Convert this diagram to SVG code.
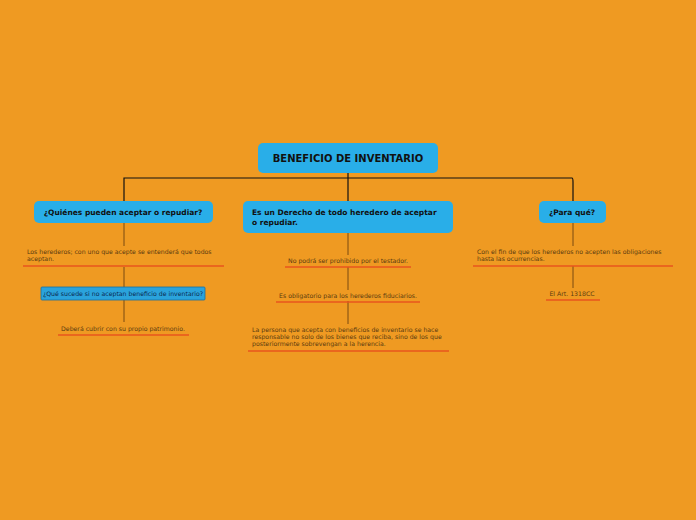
<svg xmlns="http://www.w3.org/2000/svg" width="696" height="520" viewBox="0 0 696 520">
<style>
.b{fill:#29aee8;}
.t{font-family:"DejaVu Sans",sans-serif;font-weight:bold;font-size:7.5px;fill:#111}
.s{font-family:"DejaVu Sans",sans-serif;font-size:6.2px;fill:#5a3a10}
.u{stroke:#e8541e;stroke-width:1.3}
.c{stroke:#7a4a10;stroke-width:1;fill:none}
</style>
<rect width="696" height="520" fill="#ef9a22"/>
<g id="connectors">
<path d="M348 172V178H124Q124 178 124 182V202M348 178H572Q573 178 573 182V202M348 178V202" stroke="#111" stroke-width="1.2" fill="none"/>
<path class="c" d="M124 222V246M124 267V288M124 300V322M348 232V255M348 267V290M348 301V324M573 222V246M573 266V288"/>
</g>
<g id="root"><rect class="b" x="258" y="143" width="180" height="30" rx="5"/><text x="348" y="162" text-anchor="middle" class="t" style="font-size:10px">BENEFICIO DE INVENTARIO</text></g>
<g id="n1"><rect class="b" x="34" y="201" width="179" height="22" rx="5"/><text x="123" y="215" text-anchor="middle" class="t">¿Quiénes pueden aceptar o repudiar?</text></g>
<g id="n2"><rect class="b" x="243" y="201" width="210" height="32" rx="5"/><text x="252" y="215" class="t">Es un Derecho de todo heredero de aceptar</text><text x="252" y="225" class="t">o repudiar.</text></g>
<g id="n3"><rect class="b" x="539" y="201" width="67" height="22" rx="5"/><text x="572" y="215" text-anchor="middle" class="t">¿Para qué?</text></g>
<g id="l1"><text x="27" y="254" class="s">Los herederos; con uno que acepte se entenderá que todos</text><text x="27" y="261" class="s">aceptan.</text><line class="u" x1="23" y1="266" x2="224" y2="266"/></g>
<g id="l2"><rect x="41" y="287" width="164" height="13" fill="#2aa3dc" stroke="#1a6fa0" stroke-width="0.8" rx="1"/><text x="123" y="296" text-anchor="middle" class="s" style="fill:#0a2a50">¿Qué sucede si no aceptan beneficio de inventario?</text></g>
<g id="l3"><text x="123" y="331" text-anchor="middle" class="s">Deberá cubrir con su propio patrimonio.</text><line class="u" x1="58" y1="335" x2="189" y2="335"/></g>
<g id="m1"><text x="348" y="263" text-anchor="middle" class="s">No podrá ser prohibido por el testador.</text><line class="u" x1="285" y1="267" x2="411" y2="267"/></g>
<g id="m2"><text x="348" y="298" text-anchor="middle" class="s">Es obligatorio para los herederos fiduciarios.</text><line class="u" x1="276" y1="302" x2="420" y2="302"/></g>
<g id="m3"><text x="252" y="332" class="s">La persona que acepta con beneficios de inventario se hace</text><text x="252" y="339" class="s">responsable no solo de los bienes que reciba, sino de los que</text><text x="252" y="346" class="s">posteriormente sobrevengan a la herencia.</text><line class="u" x1="248" y1="351" x2="449" y2="351"/></g>
<g id="r1"><text x="477" y="254" class="s">Con el fin de que los herederos no acepten las obligaciones</text><text x="477" y="261" class="s">hasta las ocurrencias.</text><line class="u" x1="473" y1="266" x2="673" y2="266"/></g>
<g id="r2"><text x="572" y="296" text-anchor="middle" class="s">El Art. 1318CC</text><line class="u" x1="546" y1="300" x2="600" y2="300"/></g>
</svg>
